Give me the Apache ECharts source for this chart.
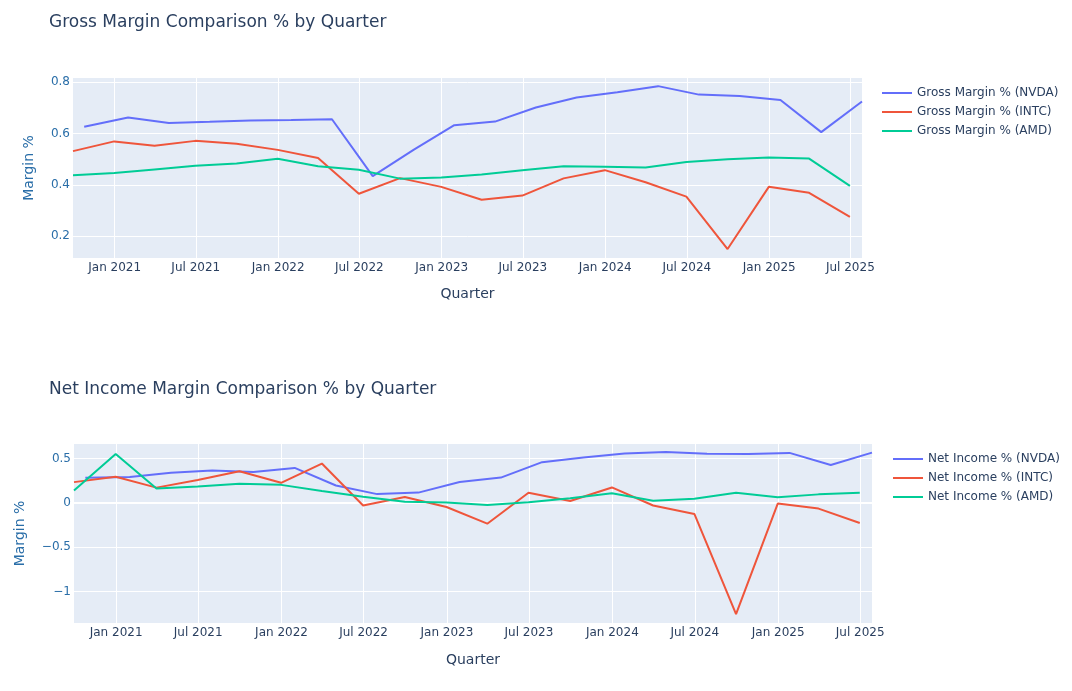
<!DOCTYPE html>
<html><head><meta charset="utf-8">
<script src="https://cdn.jsdelivr.net/npm/echarts@6/dist/echarts.min.js"></script>
<style>html,body{margin:0;padding:0;background:#fff}#c{width:1072px;height:691px}</style>
</head><body><div id="c"></div>
<script>
// ---- data ----
const nvdaDates = ['2020-10-25','2021-01-31','2021-05-02','2021-08-01','2021-10-31','2022-01-30','2022-05-01','2022-07-31','2022-10-30','2023-01-29','2023-04-30','2023-07-30','2023-10-29','2024-01-28','2024-04-28','2024-07-28','2024-10-27','2025-01-26','2025-04-27','2025-07-27'];
const calDates = ['2020-09-30','2020-12-31','2021-03-31','2021-06-30','2021-09-30','2021-12-31','2022-03-31','2022-06-30','2022-09-30','2022-12-31','2023-03-31','2023-06-30','2023-09-30','2023-12-31','2024-03-31','2024-06-30','2024-09-30','2024-12-31','2025-03-31','2025-06-30'];

const grossNVDA = [0.626,0.662,0.641,0.645,0.650,0.652,0.655,0.434,0.536,0.632,0.646,0.701,0.740,0.760,0.784,0.751,0.746,0.730,0.605,0.724];
const grossINTC = [0.531,0.569,0.552,0.571,0.560,0.536,0.504,0.365,0.426,0.392,0.342,0.358,0.425,0.457,0.410,0.354,0.150,0.392,0.369,0.275];
const grossAMD  = [0.437,0.446,0.460,0.474,0.483,0.501,0.472,0.459,0.424,0.428,0.440,0.457,0.472,0.470,0.467,0.489,0.499,0.506,0.502,0.396];

const netNVDA = [0.283,0.291,0.338,0.365,0.347,0.393,0.195,0.098,0.115,0.234,0.284,0.458,0.510,0.556,0.571,0.553,0.550,0.562,0.426,0.565];
const netINTC = [0.233,0.293,0.171,0.258,0.356,0.225,0.442,-0.030,0.066,-0.047,-0.235,0.114,0.021,0.173,-0.030,-0.125,-1.253,-0.009,-0.065,-0.227];
const netAMD  = [0.139,0.549,0.161,0.184,0.214,0.202,0.134,0.068,0.012,0.004,-0.026,0.005,0.052,0.108,0.022,0.045,0.113,0.063,0.095,0.113];

const xTickDates = ['2021-01-01','2021-07-01','2022-01-01','2022-07-01','2023-01-01','2023-07-01','2024-01-01','2024-07-01','2025-01-01','2025-07-01'];
const yTicksGross = [0.2,0.4,0.6,0.8];
const yTicksNet = [-1,-0.5,0,0.5];

const grossNames = ['Gross Margin % (NVDA)','Gross Margin % (INTC)','Gross Margin % (AMD)'];
const netNames = ['Net Income % (NVDA)','Net Income % (INTC)','Net Income % (AMD)'];
const titles = ['Gross Margin Comparison % by Quarter','Net Income Margin Comparison % by Quarter'];

// ---- style ----
const FONT = 'DejaVu Sans';
const COLORS = ['#636efa','#EF553B','#00cc96'];
const DARK = '#2a3f5f';
const YCOL = '#2a6ea8';
const MON = ['Jan','Feb','Mar','Apr','May','Jun','Jul','Aug','Sep','Oct','Nov','Dec'];
const ts = s => Date.parse(s + 'T00:00:00Z');
const fmtDate = v => { const d = new Date(v); return MON[d.getUTCMonth()] + ' ' + d.getUTCFullYear(); };
const pair = (d, v) => d.map((x, i) => [ts(x), v[i]]);
const pad = (lo, hi) => ({ min: v => v.min - lo * (v.max - v.min), max: v => v.max + hi * (v.max - v.min) });
const xTicks = xTickDates.map(ts);

function xAxis(gi, zeroLine, gap) {
  return {
    type: 'value', gridIndex: gi, min: 'dataMin', max: 'dataMax', scale: true,
    name: 'Quarter', nameLocation: 'middle', nameGap: gap,
    nameTextStyle: { color: DARK, fontSize: 14, fontFamily: FONT },
    axisLine: { show: zeroLine, onZero: true, lineStyle: { color: '#fff', width: 2 } },
    axisTick: { show: false, customValues: xTicks },
    axisLabel: { customValues: xTicks, formatter: fmtDate, color: DARK, fontSize: 12, fontFamily: FONT, margin: 4, hideOverlap: false },
    splitLine: { show: true, lineStyle: { color: '#fff', width: 1 } }
  };
}
function yAxis(gi, ticks, gap, fmt) {
  return Object.assign({
    type: 'value', gridIndex: gi,
    name: 'Margin %', nameLocation: 'middle', nameGap: gap, nameRotate: 90,
    nameTextStyle: { color: YCOL, fontSize: 14, fontFamily: FONT },
    axisLine: { show: false },
    axisTick: { show: false, customValues: ticks },
    axisLabel: { customValues: ticks, color: YCOL, fontSize: 12, fontFamily: FONT, margin: 3, formatter: fmt },
    splitLine: { show: true, lineStyle: { color: '#fff', width: 1 } }
  }, pad(0.055, 0.05));
}
function line(name, data, xi, ci) {
  return {
    type: 'line', name: name, data: data, xAxisIndex: xi, yAxisIndex: xi,
    showSymbol: false, symbol: 'none', lineStyle: { width: 2, color: COLORS[ci] },
    itemStyle: { color: COLORS[ci] }, emphasis: { disabled: true }, animation: false
  };
}
function legend(names, left, top) {
  return {
    data: names, orient: 'vertical', left: left, top: top,
    icon: 'rect', itemWidth: 30, itemHeight: 2, itemGap: 5,
    textStyle: { color: DARK, fontSize: 12, fontFamily: FONT, lineHeight: 14 },
    selectedMode: false
  };
}

const chart = echarts.init(document.getElementById('c'), null, { renderer: 'canvas' });
chart.setOption({
  backgroundColor: '#fff',
  animation: false,
  title: [
    { text: titles[0], left: 44, top: 9, textStyle: { color: DARK, fontSize: 17, fontWeight: 'normal', fontFamily: FONT } },
    { text: titles[1], left: 44, top: 376, textStyle: { color: DARK, fontSize: 17, fontWeight: 'normal', fontFamily: FONT } }
  ],
  legend: [legend(grossNames, 877, 81), legend(netNames, 888, 447)],
  grid: [
    { left: 73, right: 210, top: 78, height: 180, show: true, backgroundColor: '#E5ECF6', borderWidth: 0 },
    { left: 74, right: 200, top: 444, height: 179, show: true, backgroundColor: '#E5ECF6', borderWidth: 0 }
  ],
  xAxis: [xAxis(0, false, 29), xAxis(1, true, 30)],
  yAxis: [
    yAxis(0, yTicksGross, 37, v => String(v)),
    yAxis(1, yTicksNet, 47, v => String(v).replace('-', '\u2212'))
  ],
  series: [
    line(grossNames[0], pair(nvdaDates, grossNVDA), 0, 0),
    line(grossNames[1], pair(calDates, grossINTC), 0, 1),
    line(grossNames[2], pair(calDates, grossAMD), 0, 2),
    line(netNames[0], pair(nvdaDates, netNVDA), 1, 0),
    line(netNames[1], pair(calDates, netINTC), 1, 1),
    line(netNames[2], pair(calDates, netAMD), 1, 2)
  ]
});
</script></body></html>
